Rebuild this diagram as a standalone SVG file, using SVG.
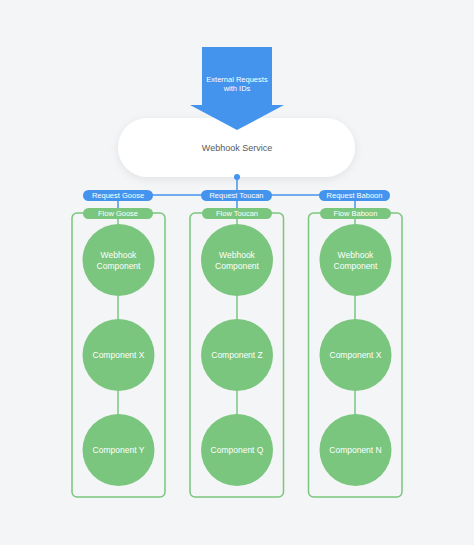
<svg xmlns="http://www.w3.org/2000/svg" width="474" height="545" viewBox="0 0 474 545">
  <defs>
    <filter id="sh" x="-20%" y="-40%" width="140%" height="180%">
      <feDropShadow dx="0" dy="2" stdDeviation="4" flood-color="#000" flood-opacity="0.08"/>
    </filter>
    <style>
      text { font-family: "Liberation Sans", Arial, sans-serif; text-anchor: middle; dominant-baseline: central; }
      .req rect { fill: #4494ee; }
      .flow rect { fill: #7ac67e; }
      .lbl { fill: #ffffff; font-size: 7.5px; }
      .circ { fill: #7ac67e; }
      .ctxt { fill: #ffffff; font-size: 8.5px; }
      .box { fill: none; stroke: #7ac67e; stroke-width: 1.5; }
      .bl { stroke: #4494ee; stroke-width: 1.5; fill: none; }
      .gl { stroke: #7ac67e; stroke-width: 1.5; fill: none; }
    </style>
  </defs>
  <rect x="0" y="0" width="474" height="545" fill="#f4f5f7"/>

  <g id="containers">
    <rect class="box" x="72" y="213" width="93" height="284" rx="5"/>
    <rect class="box" x="190" y="213" width="93.5" height="284" rx="5"/>
    <rect class="box" x="308.5" y="213" width="93.5" height="284" rx="5"/>
  </g>

  <g id="connectors">
    <line class="bl" x1="237" y1="177" x2="237" y2="195"/>
    <line class="bl" x1="118" y1="195" x2="355" y2="195"/>
    <line class="bl" x1="118" y1="195" x2="118" y2="213"/>
    <line class="bl" x1="237" y1="195" x2="237" y2="213"/>
    <line class="bl" x1="355" y1="195" x2="355" y2="213"/>
    <line class="gl" x1="118" y1="213" x2="118" y2="450"/>
    <line class="gl" x1="237" y1="213" x2="237" y2="450"/>
    <line class="gl" x1="355" y1="213" x2="355" y2="450"/>
  </g>

  <g id="webhook-service">
    <rect x="118" y="118" width="237" height="59" rx="29.5" fill="#ffffff" filter="url(#sh)"/>
    <text x="237" y="148" font-size="9" fill="#555a60">Webhook Service</text>
  </g>

  <g id="external-requests">
    <path d="M202 47 H272 V105 H284 L237 130 L190 105 H202 Z" fill="#4494ee"/>
    <text x="237" y="79" class="lbl" font-size="7.5">External Requests</text>
    <text x="237" y="88" class="lbl" font-size="7.5">with IDs</text>
  </g>

  <circle id="service-dot" cx="237" cy="177" r="3" fill="#4494ee"/>

  <g id="request-goose" class="req">
    <rect x="83" y="190" width="70" height="11" rx="5.5"/>
    <text class="lbl" x="118" y="195.5">Request Goose</text>
  </g>
  <g id="request-toucan" class="req">
    <rect x="201" y="190" width="71" height="11" rx="5.5"/>
    <text class="lbl" x="236.5" y="195.5">Request Toucan</text>
  </g>
  <g id="request-baboon" class="req">
    <rect x="319" y="190" width="71" height="11" rx="5.5"/>
    <text class="lbl" x="354.5" y="195.5">Request Baboon</text>
  </g>

  <g id="flow-goose" class="flow">
    <rect x="83" y="208" width="70" height="11" rx="5.5"/>
    <text class="lbl" x="118" y="213.5">Flow Goose</text>
  </g>
  <g id="flow-toucan" class="flow">
    <rect x="202" y="208" width="70" height="11" rx="5.5"/>
    <text class="lbl" x="237" y="213.5">Flow Toucan</text>
  </g>
  <g id="flow-baboon" class="flow">
    <rect x="320" y="208" width="71" height="11" rx="5.5"/>
    <text class="lbl" x="355.5" y="213.5">Flow Baboon</text>
  </g>

  <g id="goose-webhook">
    <circle class="circ" cx="118.5" cy="260" r="36"/>
    <text class="ctxt" x="118.5" y="255">Webhook</text>
    <text class="ctxt" x="118.5" y="266">Component</text>
  </g>
  <g id="goose-x">
    <circle class="circ" cx="118.5" cy="355" r="36"/>
    <text class="ctxt" x="118.5" y="355">Component X</text>
  </g>
  <g id="goose-y">
    <circle class="circ" cx="118.5" cy="450" r="36"/>
    <text class="ctxt" x="118.5" y="450">Component Y</text>
  </g>

  <g id="toucan-webhook">
    <circle class="circ" cx="237" cy="260" r="36"/>
    <text class="ctxt" x="237" y="255">Webhook</text>
    <text class="ctxt" x="237" y="266">Component</text>
  </g>
  <g id="toucan-z">
    <circle class="circ" cx="237" cy="355" r="36"/>
    <text class="ctxt" x="237" y="355">Component Z</text>
  </g>
  <g id="toucan-q">
    <circle class="circ" cx="237" cy="450" r="36"/>
    <text class="ctxt" x="237" y="450">Component Q</text>
  </g>

  <g id="baboon-webhook">
    <circle class="circ" cx="355.5" cy="260" r="36"/>
    <text class="ctxt" x="355.5" y="255">Webhook</text>
    <text class="ctxt" x="355.5" y="266">Component</text>
  </g>
  <g id="baboon-x">
    <circle class="circ" cx="355.5" cy="355" r="36"/>
    <text class="ctxt" x="355.5" y="355">Component X</text>
  </g>
  <g id="baboon-n">
    <circle class="circ" cx="355.5" cy="450" r="36"/>
    <text class="ctxt" x="355.5" y="450">Component N</text>
  </g>
</svg>
